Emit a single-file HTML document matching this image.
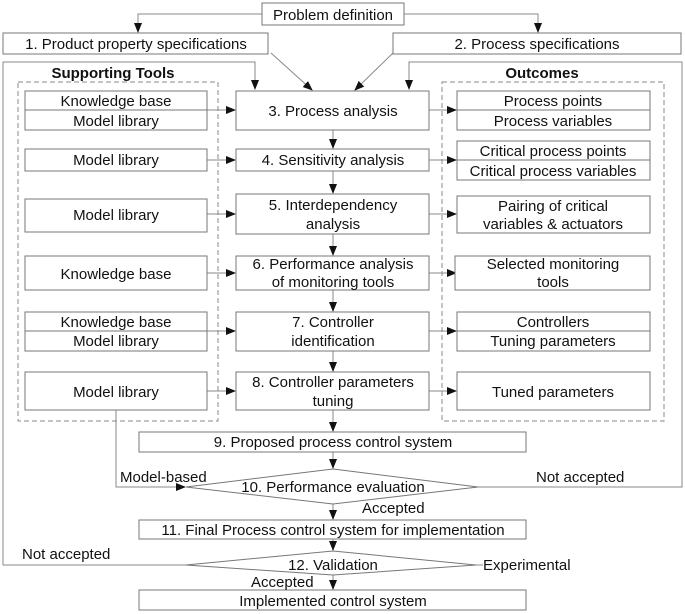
<!DOCTYPE html>
<html><head><meta charset="utf-8"><style>
html,body{margin:0;padding:0;background:#fff;}
svg{display:block;}
text{font-family:"Liberation Sans",Arial,sans-serif;font-size:15px;fill:#111;}
</style></head><body>
<svg width="685" height="614" viewBox="0 0 685 614" xmlns="http://www.w3.org/2000/svg">
<defs>
<marker id="a" markerWidth="10" markerHeight="10" refX="9" refY="5" orient="auto" markerUnits="userSpaceOnUse">
<path d="M0,1 L10,5 L0,9 Z" fill="#111"/></marker>
</defs>
<g fill="none" stroke="#888" stroke-width="1">
<!-- problem def lines -->
<path d="M262,14 H138 V32" marker-end="url(#a)"/>
<path d="M404,14 H538 V32" marker-end="url(#a)"/>
<!-- diagonals -->
<path d="M271,53 L312,90" marker-end="url(#a)"/>
<path d="M393,53 L355,90" marker-end="url(#a)"/>
<!-- loops -->
<path d="M3,565 V62 H255 V89" marker-end="url(#a)"/>
<path d="M478,487 H682 V62 H409 V89" marker-end="url(#a)"/>
<path d="M3,565 H186"/>
<!-- model-based -->
<path d="M116,410 V487 H185" marker-end="url(#a)"/>
<!-- experimental -->
<path d="M476,565 H483"/>
<!-- left to center -->
<path d="M25,110 H235" marker-end="url(#a)"/>
<path d="M207,160 H235" marker-end="url(#a)"/>
<path d="M207,214 H235" marker-end="url(#a)"/>
<path d="M207,273 H235" marker-end="url(#a)"/>
<path d="M25,331 H235" marker-end="url(#a)"/>
<path d="M207,391 H235" marker-end="url(#a)"/>
<!-- center to right -->
<path d="M429,110 H456" marker-end="url(#a)"/>
<path d="M429,160 H456" marker-end="url(#a)"/>
<path d="M429,214 H456" marker-end="url(#a)"/>
<path d="M429,273 H456" marker-end="url(#a)"/>
<path d="M429,331 H456" marker-end="url(#a)"/>
<path d="M429,391 H456" marker-end="url(#a)"/>
<!-- center vertical -->
<path d="M333,130 V148" marker-end="url(#a)"/>
<path d="M333,171 V193" marker-end="url(#a)"/>
<path d="M333,234 V255" marker-end="url(#a)"/>
<path d="M333,290 V311" marker-end="url(#a)"/>
<path d="M333,351 V371" marker-end="url(#a)"/>
<path d="M333,410 V431" marker-end="url(#a)"/>
<path d="M333,452 V468" marker-end="url(#a)"/>
<path d="M333,504 V519" marker-end="url(#a)"/>
<path d="M333,539 V550" marker-end="url(#a)"/>
<path d="M333,575 V589" marker-end="url(#a)"/>
<!-- dashed -->
<rect x="18" y="82" width="200" height="339" stroke-dasharray="5,3"/>
<rect x="442" y="82" width="222" height="339" stroke-dasharray="5,3"/>
</g>
<g fill="#fff" stroke="#777" stroke-width="1">
<rect x="262" y="3" width="142" height="22"/>
<rect x="3" y="33" width="265" height="21"/>
<rect x="393" y="33" width="288" height="21"/>
<rect x="236" y="91" width="193" height="39"/>
<rect x="236" y="149" width="193" height="22"/>
<rect x="236" y="194" width="193" height="40"/>
<rect x="236" y="256" width="193" height="34"/>
<rect x="236" y="312" width="193" height="39"/>
<rect x="236" y="372" width="193" height="38"/>
<rect x="25" y="91" width="182" height="39"/>
<rect x="25" y="149" width="182" height="22"/>
<rect x="25" y="199" width="182" height="33"/>
<rect x="25" y="256" width="182" height="34"/>
<rect x="25" y="312" width="182" height="39"/>
<rect x="25" y="372" width="182" height="38"/>
<rect x="457" y="91" width="193" height="39"/>
<rect x="457" y="141" width="193" height="39"/>
<rect x="457" y="196" width="193" height="37"/>
<rect x="455" y="256" width="195" height="34"/>
<rect x="457" y="312" width="193" height="39"/>
<rect x="457" y="372" width="193" height="38"/>
<rect x="139" y="432" width="387" height="20"/>
<rect x="139" y="520" width="387" height="19"/>
<rect x="139" y="590" width="387" height="20"/>
<polygon points="333,469 478,487 333,504 186,487"/>
<polygon points="333,551 476,565 333,575 186,565"/>
</g>
<g stroke="#777" fill="none">
<path d="M25,110 H207 M25,331 H207 M457,110 H650 M457,160 H650 M457,331 H650"/>
</g>
<g text-anchor="middle">
<text x="333" y="20">Problem definition</text>
<text x="136" y="49">1. Product property specifications</text>
<text x="537" y="49">2. Process specifications</text>
<text x="113" y="78" style="font-weight:bold">Supporting Tools</text>
<text x="542" y="78" style="font-weight:bold">Outcomes</text>
<text x="333" y="116">3. Process analysis</text>
<text x="333" y="165">4. Sensitivity analysis</text>
<text x="333" y="210">5. Interdependency</text>
<text x="333" y="229">analysis</text>
<text x="333" y="269">6. Performance analysis</text>
<text x="333" y="287">of monitoring tools</text>
<text x="333" y="327">7. Controller</text>
<text x="333" y="346">identification</text>
<text x="333" y="387">8. Controller parameters</text>
<text x="333" y="406">tuning</text>
<text x="116" y="106">Knowledge base</text>
<text x="116" y="126">Model library</text>
<text x="116" y="165">Model library</text>
<text x="116" y="220">Model library</text>
<text x="116" y="279">Knowledge base</text>
<text x="116" y="327">Knowledge base</text>
<text x="116" y="346">Model library</text>
<text x="116" y="397">Model library</text>
<text x="553" y="106">Process points</text>
<text x="553" y="126">Process variables</text>
<text x="553" y="156">Critical process points</text>
<text x="553" y="176">Critical process variables</text>
<text x="553" y="211">Pairing of critical</text>
<text x="553" y="229">variables &amp; actuators</text>
<text x="553" y="269">Selected monitoring</text>
<text x="553" y="287">tools</text>
<text x="553" y="327">Controllers</text>
<text x="553" y="346">Tuning parameters</text>
<text x="553" y="397">Tuned parameters</text>
<text x="333" y="447">9. Proposed process control system</text>
<text x="333" y="492">10. Performance evaluation</text>
<text x="333" y="535">11. Final Process control system for implementation</text>
<text x="333" y="570">12. Validation</text>
<text x="333" y="606">Implemented control system</text>
</g>
<text x="120" y="482">Model-based</text>
<text x="536" y="482">Not accepted</text>
<text x="362" y="513">Accepted</text>
<text x="22" y="559">Not accepted</text>
<text x="251" y="587">Accepted</text>
<text x="483" y="570">Experimental</text>
</svg>
</body></html>
